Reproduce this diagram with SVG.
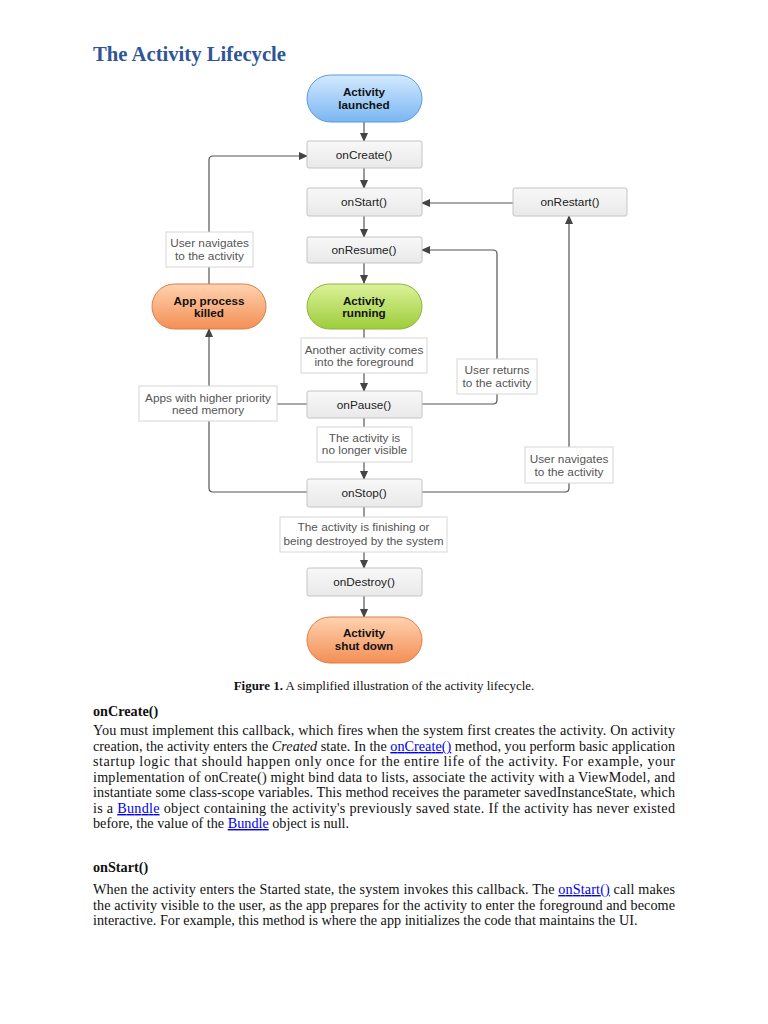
<svg xmlns="http://www.w3.org/2000/svg" width="768" height="1024" viewBox="0 0 768 1024">
<style>
.title{font-family:"Liberation Serif",serif;font-weight:bold;font-size:20.7px;fill:#2E5597}
.m{font-family:"Liberation Sans",sans-serif;font-size:11.8px;fill:#222;text-anchor:middle}
.pt{font-family:"Liberation Sans",sans-serif;font-size:11.7px;font-weight:bold;fill:#111;text-anchor:middle}
.lb{font-family:"Liberation Sans",sans-serif;font-size:11.8px;fill:#555;text-anchor:middle}
.box{fill:url(#gBox);stroke:#c4c4c4;stroke-width:1}
.lbox{fill:#fff;stroke:#d6d6d6;stroke-width:1}
.c{fill:none;stroke:#555;stroke-width:1.2}
.a{marker-end:url(#arr)}
.body{font-family:"Liberation Serif",serif;font-size:14.2px;fill:#111}
.h{font-family:"Liberation Serif",serif;font-size:14.2px;font-weight:bold;fill:#111}
.cap{font-family:"Liberation Serif",serif;font-size:12.9px;fill:#111;text-anchor:middle}
.lk{fill:#0000EE;text-decoration:underline}
</style>
<defs>
<linearGradient id="gBox" x1="0" y1="0" x2="0" y2="1"><stop offset="0" stop-color="#f8f8f8"/><stop offset="1" stop-color="#e9e9e9"/></linearGradient>
<linearGradient id="gBlue" x1="0" y1="0" x2="0" y2="1"><stop offset="0" stop-color="#d3e9ff"/><stop offset="1" stop-color="#7ab6f2"/></linearGradient>
<linearGradient id="gGreen" x1="0" y1="0" x2="0" y2="1"><stop offset="0" stop-color="#dcf29a"/><stop offset="1" stop-color="#9ccd3a"/></linearGradient>
<linearGradient id="gOrange" x1="0" y1="0" x2="0" y2="1"><stop offset="0" stop-color="#ffd2b0"/><stop offset="1" stop-color="#f38f55"/></linearGradient>
<marker id="arr" markerWidth="9" markerHeight="8" refX="8" refY="4" orient="auto" markerUnits="userSpaceOnUse"><path d="M0,0 L9,4 L0,8 z" fill="#444"/></marker>
</defs>
<rect width="768" height="1024" fill="#fff"/>
<text class="title" x="93" y="61">The Activity Lifecycle</text>

<g id="connectors">
<path class="c a" d="M364,122 V141"/>
<path class="c a" d="M364,168 V188"/>
<path class="c a" d="M364,216 V237"/>
<path class="c a" d="M364,263 V283"/>
<path class="c a" d="M364,329 V391"/>
<path class="c a" d="M364,418 V479"/>
<path class="c a" d="M364,507 V568"/>
<path class="c a" d="M364,596 V617"/>
<path class="c a" d="M513,203 H422"/>
<path class="c a" d="M422,404 H493 Q497,404 497,400 V254 Q497,250 493,250 H422"/>
<path class="c a" d="M422,492 H565 Q569,492 569,488 V216"/>
<path class="c a" d="M307,492 H213 Q209,492 209,488 V329"/>
<path class="c" d="M307,404 H209"/>
<path class="c a" d="M209,284 V160 Q209,156 213,156 H307"/>
</g>

<g id="launched"><rect x="307" y="75" width="115" height="47" rx="23.5" fill="url(#gBlue)" stroke="#5e9ad6"/><text class="pt" x="364" y="96">Activity</text><text class="pt" x="364" y="109">launched</text></g>
<g id="onCreate"><rect class="box" x="307" y="141" width="115" height="27" rx="2"/><text class="m" x="364" y="159">onCreate()</text></g>
<g id="onStart"><rect class="box" x="307" y="188" width="115" height="28" rx="2"/><text class="m" x="364" y="206">onStart()</text></g>
<g id="onRestart"><rect class="box" x="513" y="188" width="114" height="28" rx="2"/><text class="m" x="570" y="206">onRestart()</text></g>
<g id="onResume"><rect class="box" x="307" y="237" width="115" height="26" rx="2"/><text class="m" x="364" y="254">onResume()</text></g>
<g id="running"><rect x="307" y="284" width="115" height="45" rx="22.5" fill="url(#gGreen)" stroke="#8db53a"/><text class="pt" x="364" y="305">Activity</text><text class="pt" x="364" y="317">running</text></g>
<g id="killed"><rect x="152" y="284" width="114" height="45" rx="22.5" fill="url(#gOrange)" stroke="#df7c45"/><text class="pt" x="209" y="305">App process</text><text class="pt" x="209" y="317">killed</text></g>
<g id="onPause"><rect class="box" x="307" y="391" width="115" height="27" rx="2"/><text class="m" x="364" y="409">onPause()</text></g>
<g id="onStop"><rect class="box" x="307" y="479" width="115" height="28" rx="2"/><text class="m" x="364" y="497">onStop()</text></g>
<g id="onDestroy"><rect class="box" x="307" y="568" width="115" height="28" rx="2"/><text class="m" x="364" y="586">onDestroy()</text></g>
<g id="shutdown"><rect x="307" y="617" width="115" height="46" rx="23" fill="url(#gOrange)" stroke="#df7c45"/><text class="pt" x="364" y="637">Activity</text><text class="pt" x="364" y="650">shut down</text></g>

<g id="lbl-navigate-left"><rect class="lbox" x="166" y="232" width="87" height="35"/><text class="lb" x="209.5" y="247">User navigates</text><text class="lb" x="209.5" y="260">to the activity</text></g>
<g id="lbl-another"><rect class="lbox" x="301" y="338" width="126" height="35"/><text class="lb" x="364" y="354">Another activity comes</text><text class="lb" x="364" y="366">into the foreground</text></g>
<g id="lbl-higher"><rect class="lbox" x="139" y="386" width="138" height="35"/><text class="lb" x="208" y="402">Apps with higher priority</text><text class="lb" x="208" y="414">need memory</text></g>
<g id="lbl-returns"><rect class="lbox" x="457" y="359" width="80" height="35"/><text class="lb" x="497" y="374">User returns</text><text class="lb" x="497" y="387">to the activity</text></g>
<g id="lbl-novisible"><rect class="lbox" x="317" y="427" width="95" height="35"/><text class="lb" x="364.5" y="442">The activity is</text><text class="lb" x="364.5" y="454">no longer visible</text></g>
<g id="lbl-navigate-right"><rect class="lbox" x="525" y="447" width="88" height="36"/><text class="lb" x="569" y="463">User navigates</text><text class="lb" x="569" y="476">to the activity</text></g>
<g id="lbl-finishing"><rect class="lbox" x="280" y="517" width="167" height="35"/><text class="lb" x="363.5" y="531">The activity is finishing or</text><text class="lb" x="363.5" y="545">being destroyed by the system</text></g>

<text class="cap" x="384" y="690"><tspan font-weight="bold">Figure 1.</tspan> A simplified illustration of the activity lifecycle.</text>

<text class="h" x="93" y="716">onCreate()</text>
<text class="body" x="93" y="735" textLength="582" lengthAdjust="spacing">You must implement this callback, which fires when the system first creates the activity. On activity</text>
<text class="body" x="93" y="751" textLength="582" lengthAdjust="spacing">creation, the activity enters the <tspan font-style="italic">Created</tspan> state. In the <tspan class="lk">onCreate()</tspan> method, you perform basic application</text>
<text class="body" x="93" y="766" textLength="582" lengthAdjust="spacing">startup logic that should happen only once for the entire life of the activity. For example, your</text>
<text class="body" x="93" y="782" textLength="582" lengthAdjust="spacing">implementation of onCreate() might bind data to lists, associate the activity with a ViewModel, and</text>
<text class="body" x="93" y="797" textLength="582" lengthAdjust="spacing">instantiate some class-scope variables. This method receives the parameter savedInstanceState, which</text>
<text class="body" x="93" y="813" textLength="582" lengthAdjust="spacing">is a <tspan class="lk">Bundle</tspan> object containing the activity's previously saved state. If the activity has never existed</text>
<text class="body" x="93" y="828">before, the value of the <tspan class="lk">Bundle</tspan> object is null.</text>

<text class="h" x="93" y="872">onStart()</text>
<text class="body" x="93" y="894" textLength="582" lengthAdjust="spacing">When the activity enters the Started state, the system invokes this callback. The <tspan class="lk">onStart()</tspan> call makes</text>
<text class="body" x="93" y="910" textLength="582" lengthAdjust="spacing">the activity visible to the user, as the app prepares for the activity to enter the foreground and become</text>
<text class="body" x="93" y="925">interactive. For example, this method is where the app initializes the code that maintains the UI.</text>
</svg>
